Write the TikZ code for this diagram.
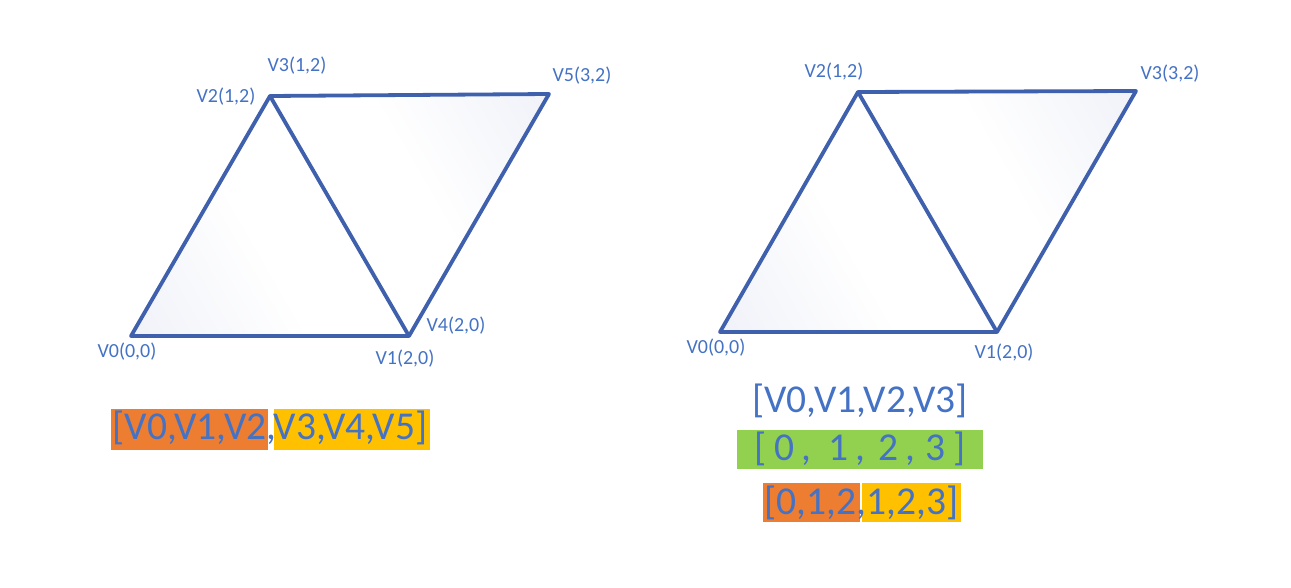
\documentclass[tikz,border=0pt]{standalone}
\usepackage{fontspec}
\setmainfont{Carlito}
\definecolor{edge}{RGB}{63,96,172}
\definecolor{txt}{RGB}{68,114,196}
\definecolor{hlorange}{RGB}{237,125,49}
\definecolor{hlyellow}{RGB}{255,192,0}
\definecolor{hlgreen}{RGB}{146,208,80}
\definecolor{tint}{RGB}{230,233,244}
\pgfdeclarehorizontalshading{diagtint}{100bp}{color(0bp)=(tint); color(38bp)=(white); color(62bp)=(white); color(100bp)=(tint)}
\begin{document}
\begin{tikzpicture}[x=1pt,y=-1pt,
  edgeline/.style={draw=edge,line width=3.8pt,line join=round},
  vlabel/.style={text=txt,inner sep=0pt,font=\fontsize{20}{23}\selectfont},
  biglabel/.style={text=txt,inner sep=0pt,font=\fontsize{39.5}{45}\selectfont},
  hlbox/.style={inner sep=0pt,draw=none},
  tintfill/.style={shading=diagtint,shading angle=30}]
\useasboundingbox (0,0) rectangle (1291,588);
% ---------- left figure ----------
\coordinate (a0) at (131,336);
\coordinate (a1) at (409,336);
\coordinate (a2) at (270,96);
\coordinate (a5) at (549,94);
\shade[tintfill] (a0) -- (a1) -- (a5) -- (a2) -- cycle;
\draw[edgeline] (a0) -- (a1) -- (a2) -- cycle;
\draw[edgeline] (a2) -- (a5) -- (a1);
\node[vlabel] (l3) at (297,66) {V3(1,2)};
\node[vlabel] (l2) at (226,97) {V2(1,2)};
\node[vlabel] (l5) at (582,76) {V5(3,2)};
\node[vlabel] (l0) at (127,352) {V0(0,0)};
\node[vlabel] (l1) at (405,359) {V1(2,0)};
\node[vlabel] (l4) at (456,326) {V4(2,0)};
\node[hlbox,fill=hlorange,minimum width=157pt,minimum height=41pt] (hA) at (189.5,429.5) {};
\node[hlbox,fill=hlyellow,minimum width=156pt,minimum height=41pt] (hB) at (352,429.5) {};
\node[biglabel] (listA) at (270,428) {[V0,V1,V2,V3,V4,V5]};
% ---------- right figure ----------
\coordinate (b0) at (720,332);
\coordinate (b1) at (997,332);
\coordinate (b2) at (858,92);
\coordinate (b3) at (1136,91);
\shade[tintfill] (b0) -- (b1) -- (b3) -- (b2) -- cycle;
\draw[edgeline] (b0) -- (b1) -- (b2) -- cycle;
\draw[edgeline] (b2) -- (b3) -- (b1);
\node[vlabel] (r2) at (834,72) {V2(1,2)};
\node[vlabel] (r3) at (1170,74) {V3(3,2)};
\node[vlabel] (r0) at (716,348) {V0(0,0)};
\node[vlabel] (r1) at (1004,353) {V1(2,0)};
\node[biglabel] (listB) at (860,401) {[V0,V1,V2,V3]};
\node[hlbox,fill=hlgreen,minimum width=246pt,minimum height=39pt] (hG) at (860,449.5) {};
\node[biglabel] (idxB) at (860,449) {[\hspace{8pt}0\hspace{7pt},\hspace{17pt}1\hspace{7pt},\hspace{13pt}2\hspace{7pt},\hspace{10pt}3\hspace{8pt}]};
\node[hlbox,fill=hlorange,minimum width=97pt,minimum height=39pt] (hC) at (811.5,502.5) {};
\node[hlbox,fill=hlyellow,minimum width=99pt,minimum height=39pt] (hD) at (911.5,502.5) {};
\node[biglabel] (idxC) at (861.5,503) {[0,1,2,1,2,3]};
\end{tikzpicture}
\end{document}
